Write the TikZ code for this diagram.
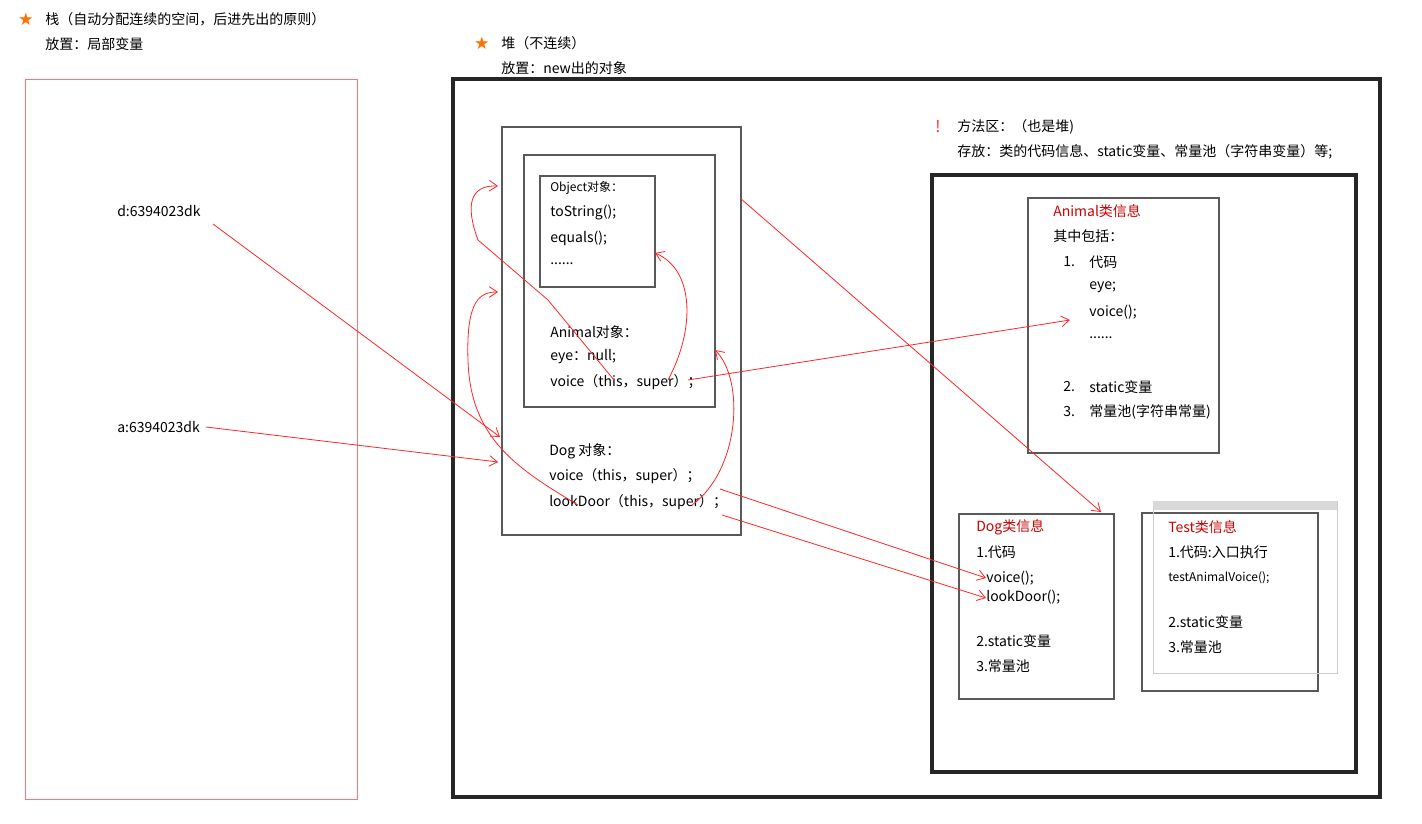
\documentclass[tikz,border=0pt]{standalone}
\usepackage{fontspec}
\usetikzlibrary{arrows.meta}
\setmainfont{Noto Sans CJK SC}
\newfontfamily\sym{DejaVu Sans}
\begin{document}
\begin{tikzpicture}[x=0.75pt,y=-0.75pt,
  t/.style={anchor=west,inner sep=0pt,font=\fontsize{10.5}{12}\selectfont},
  ts/.style={anchor=west,inner sep=0pt,font=\fontsize{9}{11}\selectfont},
  rt/.style={t,text=red!80!black},
  box/.style={draw=black!65,line width=0.8pt},
  thick box/.style={draw=black!85,line width=2.6pt},
  ar/.style={draw=red!85,line width=0.6pt,-{Straight Barb[length=6pt,width=8pt]}},
  star/.style={anchor=center,inner sep=0pt,text=orange!90!red,font=\sym\fontsize{13}{13}\selectfont}]
\useasboundingbox (0,0) rectangle (1422,824);
\fill[white] (0,0) rectangle (1422,824);
% titles
\node[star] (s1) at (26,19) {★};
\node[t] (t1) at (45,19) {栈（自动分配连续的空间，后进先出的原则）};
\node[t] (t2) at (45,44) {放置：局部变量};
\node[star] (s2) at (482,43) {★};
\node[t] (t3) at (501,43) {堆（不连续）};
\node[t] (t4) at (501,68) {放置：new出的对象};
% stack
\draw[draw=red!55,line width=0.6pt] (25,79) rectangle (357,799);
\node[t] (d) at (117,211) {d:6394023dk};
\node[t] (a) at (117,427) {a:6394023dk};
% heap
\draw[thick box] (453,79) rectangle (1380,797);
\draw[box] (502,127) rectangle (741,535);
\draw[box] (524,155) rectangle (715,407);
\draw[box] (540,176) rectangle (655,287);
\node[ts] at (550,188) {Object对象：};
\node[t] at (550,213) {toString();};
\node[t] at (550,238) {equals();};
\node[t] at (550,264) {......};
\node[t] at (550,332) {Animal对象：};
\node[t] at (550,357) {eye：null;};
\node[t] at (550,382) {voice（this，super）；};
\node[t] at (549,451) {Dog 对象：};
\node[t] at (549,476) {voice（this，super）；};
\node[t] at (549,502) {lookDoor（this，super）；};
% method area
\node[anchor=center,inner sep=0pt,text=red!85,font=\fontsize{12}{12}\selectfont] at (938,127) {!};
\node[t] at (957,127) {方法区：（也是堆)};
\node[t] at (957,152) {存放：类的代码信息、static变量、常量池（字符串变量）等;};
\draw[thick box] (932,175) rectangle (1356,772);
\draw[box] (1028,198) rectangle (1219,453);
\node[rt] at (1053,211) {Animal类信息};
\node[t] at (1053,236) {其中包括：};
\node[t] at (1063,262) {1.};
\node[t] at (1089,262) {代码};
\node[t] at (1089,287) {eye;};
\node[t] at (1089,312) {voice();};
\node[t] at (1089,338) {......};
\node[t] at (1063,387) {2.};
\node[t] at (1089,387) {static变量};
\node[t] at (1063,412) {3.};
\node[t] at (1089,412) {常量池(字符串常量)};
\draw[box] (959,514) rectangle (1114,699);
\node[rt] at (976,527) {Dog类信息};
\node[t] at (976,552) {1.代码};
\node[t] at (986,578) {voice();};
\node[t] at (986,597) {lookDoor();};
\node[t] at (976,641) {2.static变量};
\node[t] at (976,666) {3.常量池};
\draw[box] (1142,513) rectangle (1318,691);
\draw[black!20,line width=0.5pt] (1153,501) rectangle (1337,673);
\fill[black!15] (1153,501) rectangle (1337,510);
\node[rt] at (1168,527) {Test类信息};
\node[t] at (1168,552) {1.代码:入口执行};
\node[ts] at (1168,578) {testAnimalVoice();};
\node[t] at (1168,622) {2.static变量};
\node[t] at (1168,647) {3.常量池};
% connector coordinates
\coordinate (dS) at (213,224); \coordinate (dE) at (500,437);
\coordinate (aS) at (206,427); \coordinate (aE) at (498,462);
\coordinate (v1) at (614,380); \coordinate (objL) at (498,186);
\coordinate (v2) at (668,380); \coordinate (objR) at (655,253);
\coordinate (v3) at (688,380); \coordinate (animC) at (1070,320);
\coordinate (l1) at (578,505); \coordinate (animObjL) at (498,292);
\coordinate (l2) at (692,505); \coordinate (animR) at (715,350);
\coordinate (o1) at (740,198); \coordinate (dogC) at (1101,512);
\coordinate (dv) at (720,489); \coordinate (dvE) at (986,578);
\coordinate (dl) at (722,515); \coordinate (dlE) at (986,598);
\draw[ar] (dS) -- (dE);
\draw[ar] (aS) -- (aE);
\draw[ar] (v1) -- (548,300) -- (478,240) .. controls (465,205) and (470,185) .. (objL);
\draw[ar] (v2) .. controls (695,330) and (695,270) .. (objR);
\draw[ar] (v3) -- (animC);
\draw[ar] (l1) .. controls (520,470) and (470,440) .. (468,360) .. controls (466,300) and (480,292) .. (animObjL);
\draw[ar] (l2) .. controls (740,470) and (745,380) .. (animR);
\draw[ar] (o1) -- (dogC);
\draw[ar] (dv) -- (dvE);
\draw[ar] (dl) -- (dlE);
\end{tikzpicture}
\end{document}
